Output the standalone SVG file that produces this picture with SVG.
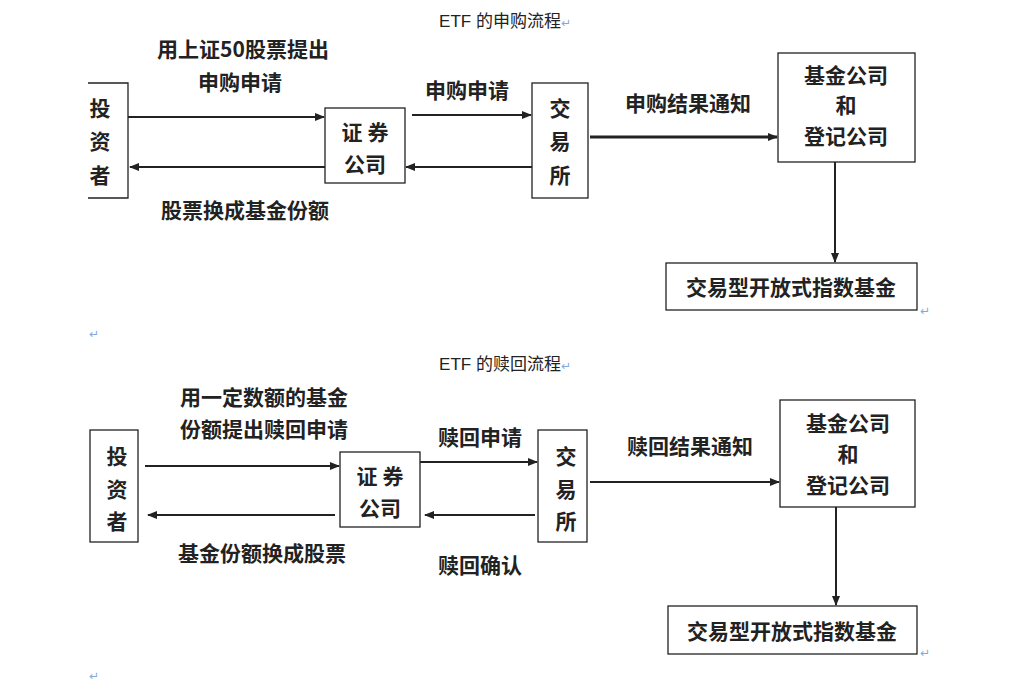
<svg xmlns="http://www.w3.org/2000/svg" width="1022" height="696" viewBox="0 0 1022 696">
<style>
.b{fill:#fff;stroke:#222;stroke-width:1.3}
.t{font-family:"Noto Sans CJK SC",sans-serif;font-size:21px;font-weight:bold;fill:#222;text-anchor:middle}
.h{font-family:"Liberation Sans","Noto Sans CJK SC",sans-serif;font-size:17px;fill:#222;text-anchor:middle}
.r{font-family:"DejaVu Sans",sans-serif;font-size:12px;fill:#8aa6d6}
.c line{stroke:#222;stroke-width:2}
</style>
<defs><marker id="a" markerWidth="10" markerHeight="8" refX="9" refY="4" orient="auto" markerUnits="userSpaceOnUse"><path d="M0,0L10,4L0,8z" fill="#222"/></marker></defs>
<rect width="1022" height="696" fill="#fff"/>
<text class="h" x="505" y="27">ETF 的申购流程<tspan class="r">↵</tspan></text>
<text class="h" x="505" y="370">ETF 的赎回流程<tspan class="r">↵</tspan></text>
<g id="inv1"><path class="b" d="M88,83H128V198H88"/><text class="t" x="100" y="116">投</text><text class="t" x="100" y="149">资</text><text class="t" x="100" y="183">者</text></g>
<g id="sec1"><rect class="b" x="325" y="108" width="80" height="75"/><text class="t" x="365" y="140">证 券</text><text class="t" x="365" y="172">公司</text></g>
<g id="ex1"><rect class="b" x="532" y="83" width="56" height="115"/><text class="t" x="560" y="116">交</text><text class="t" x="560" y="149">易</text><text class="t" x="560" y="183">所</text></g>
<g id="fund1"><rect class="b" x="778" y="53" width="137" height="109"/><text class="t" x="846" y="83">基金公司</text><text class="t" x="846" y="113">和</text><text class="t" x="846" y="144">登记公司</text></g>
<g id="etf1"><rect class="b" x="666" y="263" width="251" height="47"/><text class="t" x="791" y="295">交易型开放式指数基金</text></g>
<g id="inv2"><rect class="b" x="90" y="430" width="48" height="112"/><text class="t" x="117" y="464">投</text><text class="t" x="117" y="497">资</text><text class="t" x="117" y="529">者</text></g>
<g id="sec2"><rect class="b" x="340" y="452" width="80" height="75"/><text class="t" x="380" y="484">证 券</text><text class="t" x="380" y="516">公司</text></g>
<g id="ex2"><rect class="b" x="538" y="430" width="49" height="112"/><text class="t" x="566" y="464">交</text><text class="t" x="566" y="497">易</text><text class="t" x="566" y="529">所</text></g>
<g id="fund2"><rect class="b" x="780" y="400" width="135" height="107"/><text class="t" x="848" y="431">基金公司</text><text class="t" x="848" y="462">和</text><text class="t" x="848" y="493">登记公司</text></g>
<g id="etf2"><rect class="b" x="668" y="606" width="249" height="48"/><text class="t" x="792" y="639">交易型开放式指数基金</text></g>
<g class="c">
<line x1="128" y1="117" x2="324" y2="117" marker-end="url(#a)"/>
<line x1="325" y1="167" x2="130" y2="167" marker-end="url(#a)"/>
<line x1="412" y1="115" x2="531" y2="115" marker-end="url(#a)"/>
<line x1="532" y1="167" x2="406" y2="167" marker-end="url(#a)"/>
<line x1="590" y1="137" x2="777" y2="137" marker-end="url(#a)" style="stroke-width:3"/>
<line x1="835" y1="162" x2="835" y2="262" marker-end="url(#a)"/>
<line x1="145" y1="466" x2="339" y2="466" marker-end="url(#a)"/>
<line x1="335" y1="515" x2="148" y2="515" marker-end="url(#a)"/>
<line x1="420" y1="462" x2="537" y2="462" marker-end="url(#a)"/>
<line x1="535" y1="515" x2="425" y2="515" marker-end="url(#a)"/>
<line x1="590" y1="482" x2="779" y2="482" marker-end="url(#a)"/>
<line x1="836" y1="507" x2="836" y2="605" marker-end="url(#a)"/>
</g>
<g id="labels">
<text class="t" x="243" y="57">用上证50股票提出</text>
<text class="t" x="240" y="90">申购申请</text>
<text class="t" x="467" y="98">申购申请</text>
<text class="t" x="688" y="111">申购结果通知</text>
<text class="t" x="245" y="218">股票换成基金份额</text>
<text class="t" x="264" y="405">用一定数额的基金</text>
<text class="t" x="264" y="437">份额提出赎回申请</text>
<text class="t" x="480" y="445">赎回申请</text>
<text class="t" x="690" y="454">赎回结果通知</text>
<text class="t" x="262" y="561">基金份额换成股票</text>
<text class="t" x="480" y="573">赎回确认</text>
</g>
<text class="r" x="89" y="338">↵</text><text class="r" x="89" y="680">↵</text>
<text class="r" x="920" y="315">↵</text><text class="r" x="920" y="657">↵</text>
</svg>
